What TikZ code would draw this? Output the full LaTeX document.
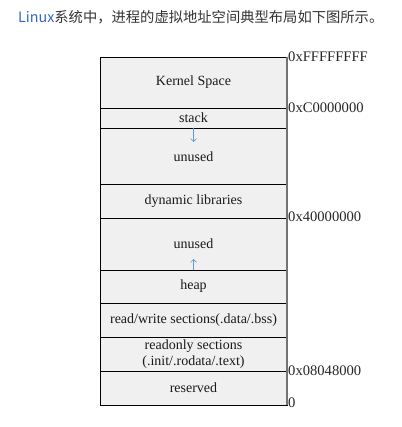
\documentclass[tikz,border=0pt]{standalone}
\usepackage{fontspec}
\setmainfont{Liberation Serif}
\newfontfamily\cjkfont{Noto Sans CJK SC}
\usetikzlibrary{arrows.meta}
\definecolor{boxfill}{HTML}{F0F0F0}
\definecolor{linkblue}{HTML}{3366CC}
\definecolor{headgray}{HTML}{333333}
\definecolor{arrowblue}{HTML}{5B9BD5}
\begin{document}
\begin{tikzpicture}[x=1pt,y=-1pt,
  seg/.style={draw=black, line width=0.9pt, fill=boxfill, minimum width=187pt, inner sep=0pt, outer sep=0pt, anchor=north west, font=\fontsize{14}{15.5}\selectfont, text=black!90, align=center},
  addr/.style={anchor=west, inner sep=0pt, font=\fontsize{14.6}{16}\selectfont, text=black!85},
  growarrow/.style={draw=arrowblue, line width=0.6pt, -{Straight Barb[length=3pt,width=6pt]}}
]
\useasboundingbox (0,0) rectangle (401,427);
\node[anchor=west, inner sep=0pt, font=\cjkfont\fontsize{14.3}{16}\selectfont] (title) at (18,17) {\textcolor{linkblue}{Linux}\textcolor{headgray}{系统中，进程的虚拟地址空间典型布局如下图所示。}};
\node[seg, minimum height=51pt] (kernel) at (100,57) {Kernel Space};
\node[seg, minimum height=20pt] (stack) at (100,108) {stack};
\node[seg, minimum height=56pt] (unused1) at (100,128) {\\[-4pt]unused};
\node[seg, minimum height=34pt] (dyn) at (100,184) {dynamic libraries};
\node[seg, minimum height=52pt] (unused2) at (100,218) {unused};
\node[seg, minimum height=33pt] (heap) at (100,270) {heap};
\node[seg, minimum height=34pt] (rw) at (100,303) {read/write sections(.data/.bss)};
\node[seg, minimum height=34pt] (ro) at (100,337) {readonly sections\\(.init/.rodata/.text)};
\node[seg, minimum height=34pt] (res) at (100,371) {reserved};
\draw[black!55, line width=1.4pt] (kernel.north east) -- (res.south east);
\coordinate (downend) at ([yshift=-14pt]stack.south);
\draw[growarrow] (stack.south) -- (downend);
\coordinate (upend) at ([yshift=11pt]heap.north);
\draw[growarrow] (heap.north) -- (upend);
\node[addr] (aF) at (288,57) {0xFFFFFFFF};
\node[addr] (aC) at (288,108) {0xC0000000};
\node[addr] (a4) at (288,217) {0x40000000};
\node[addr] (a08) at (288,371) {0x08048000};
\node[addr] (a0) at (288,403) {0};
\end{tikzpicture}
\end{document}
